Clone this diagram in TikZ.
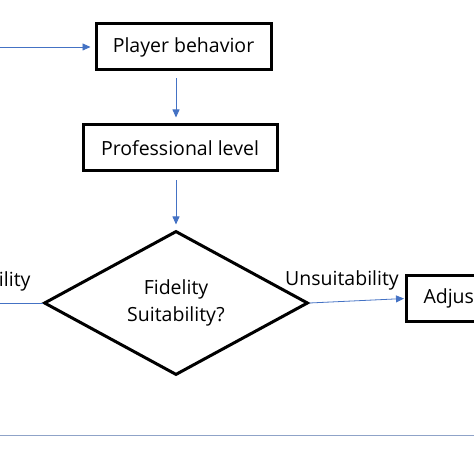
\documentclass[tikz,border=0pt]{standalone}
\usepackage{fontspec}
\setmainfont{Open Sans}
\definecolor{flowline}{RGB}{68, 114, 196}
\definecolor{baseline}{RGB}{143, 163, 200}
\usetikzlibrary{shapes.geometric, arrows.meta, positioning}
\tikzset{
    every node/.style={font=\fontsize{19.5}{24}\selectfont},
    stepbox/.style={draw, line width=3pt, inner sep=0pt, minimum height=46pt},
    choice/.style={draw, diamond, line width=3pt, inner sep=0pt,
        minimum width=264pt, minimum height=143pt, align=center},
    flow/.style={draw=flowline, line width=0.8pt,
        -{Triangle[length=8pt, width=7pt]}},
    plain/.style={draw=flowline, line width=0.8pt},
}
\begin{document}
\begin{tikzpicture}[x=1pt, y=1pt]
        \useasboundingbox (0, 0) rectangle (474, 474);
        \node[stepbox, minimum width=175pt] (player) at (183.5, 427) {Player behavior};
        \node[stepbox, minimum width=194pt] (prof) at (180, 326) {Professional level};
        \node[choice] (fid) at (176, 171) {Fidelity\\[3pt]Suitability?};
        \node[stepbox, anchor=west, inner xsep=17pt] (adj) at (405, 175.5)
            {Adjust fidelity};
        \coordinate (inleft) at (-10, 427);
        \coordinate (outleft) at (-10, 171);
        \coordinate (bottoml) at (-10, 39);
        \coordinate (bottomr) at (484, 39);
        \draw[flow, shorten >=4pt] (inleft) -- (player.west);
        \draw[flow, shorten <=7pt, shorten >=6pt] (fid.north |- player.south)
            -- (fid.north |- prof.north);
        \draw[flow, shorten <=8pt, shorten >=5pt] (fid.north |- prof.south)
            -- (fid.north);
        \draw[flow, shorten >=1pt] (fid.east) -- (adj.west);
        \draw[plain] (fid.west) -- (outleft);
        \draw[plain, draw=baseline] (bottoml) -- (bottomr);
        \node[anchor=east] (suit) at (34, 193) {Suitability};
        \node (unsuit) at (342, 194) {Unsuitability};
    \end{tikzpicture}
\end{document}
